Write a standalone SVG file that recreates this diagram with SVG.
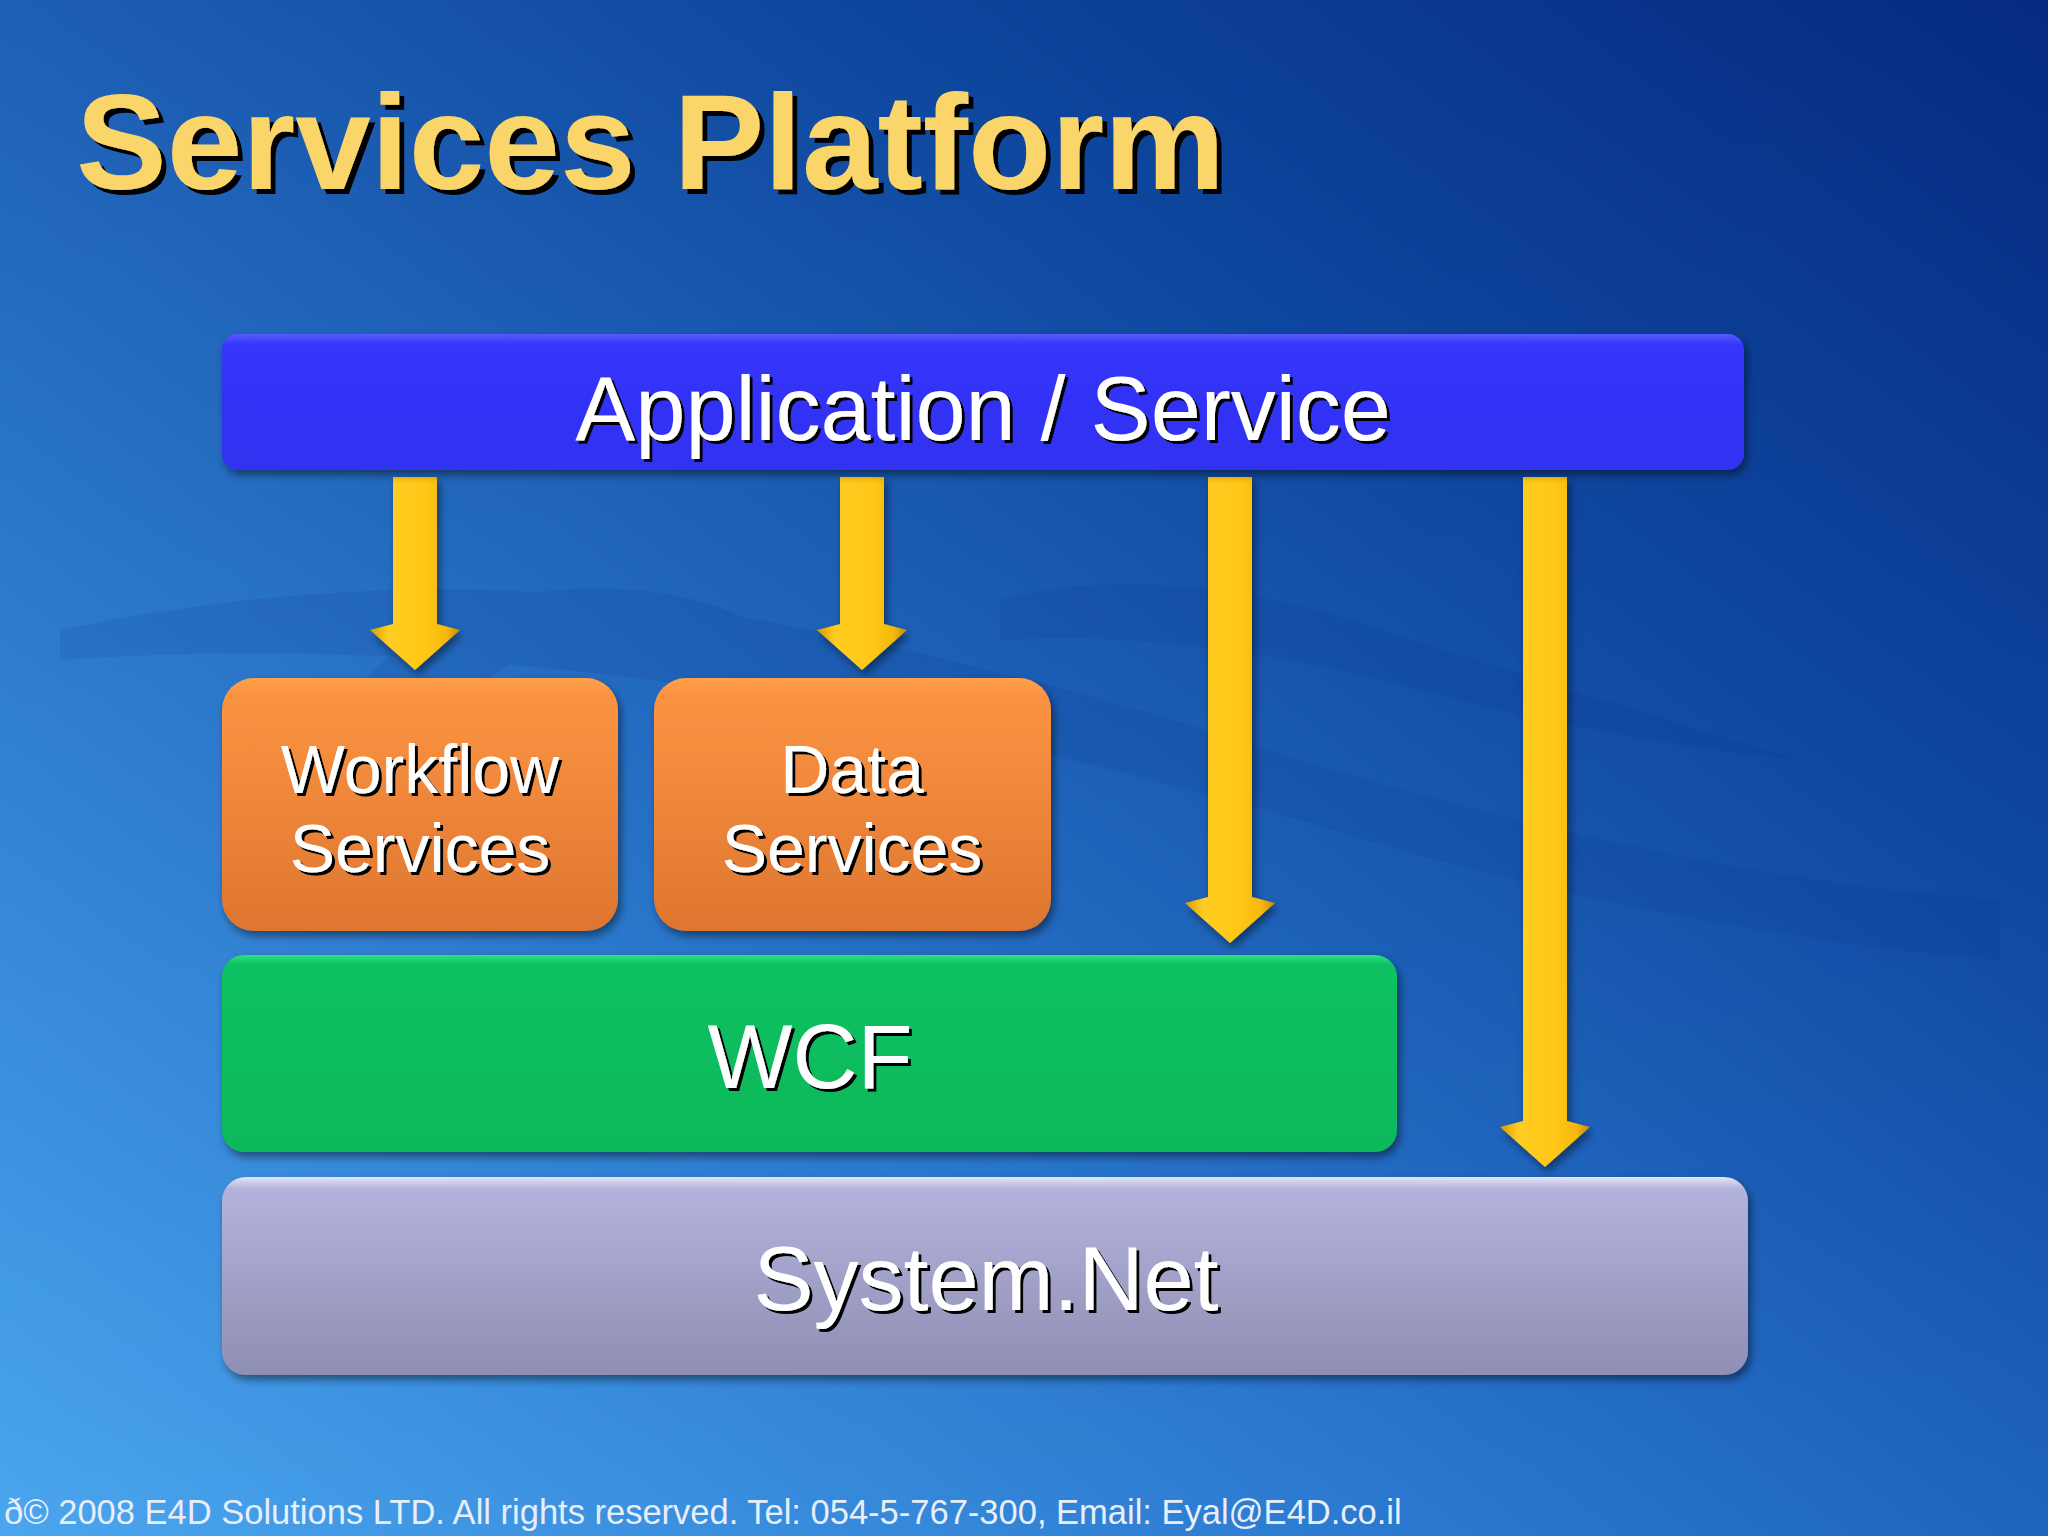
<svg xmlns="http://www.w3.org/2000/svg" width="2048" height="1536" viewBox="0 0 2048 1536">
<defs>
<linearGradient id="bg" x1="0" y1="1" x2="1" y2="0">
<stop offset="0" stop-color="#4aa6ee"/>
<stop offset="0.35" stop-color="#2a78cf"/>
<stop offset="0.7" stop-color="#0f4aa6"/>
<stop offset="1" stop-color="#062c86"/>
</linearGradient>
<linearGradient id="bgv" x1="0" y1="0" x2="0" y2="1">
<stop offset="0" stop-color="#000" stop-opacity="0.05"/>
<stop offset="1" stop-color="#000" stop-opacity="0"/>
</linearGradient>
<linearGradient id="gArrow" x1="0" y1="0" x2="1" y2="0">
<stop offset="0" stop-color="#d99a00"/>
<stop offset="0.2" stop-color="#ffcc22"/>
<stop offset="0.6" stop-color="#ffc817"/>
<stop offset="0.85" stop-color="#f5b80c"/>
<stop offset="1" stop-color="#c98a00"/>
</linearGradient>
<linearGradient id="gBlue" x1="0" y1="0" x2="0" y2="1">
<stop offset="0" stop-color="#5a5aff"/>
<stop offset="0.08" stop-color="#3535fc"/>
<stop offset="1" stop-color="#3030f0"/>
</linearGradient>
<linearGradient id="gOrange" x1="0" y1="0" x2="0" y2="1">
<stop offset="0" stop-color="#ffa04c"/>
<stop offset="0.06" stop-color="#fb9442"/>
<stop offset="1" stop-color="#de7630"/>
</linearGradient>
<linearGradient id="gGreen" x1="0" y1="0" x2="0" y2="1">
<stop offset="0" stop-color="#2ee27e"/>
<stop offset="0.05" stop-color="#0cc162"/>
<stop offset="1" stop-color="#08b85a"/>
</linearGradient>
<linearGradient id="gGray" x1="0" y1="0" x2="0" y2="1">
<stop offset="0" stop-color="#e4e4f6"/>
<stop offset="0.06" stop-color="#b2b2dc"/>
<stop offset="1" stop-color="#8f8fb4"/>
</linearGradient>
<filter id="shadow" x="-5%" y="-10%" width="110%" height="125%">
<feDropShadow dx="3" dy="5" stdDeviation="4" flood-color="#000" flood-opacity="0.45"/>
</filter>
<filter id="tsBig" x="-5%" y="-10%" width="110%" height="130%">
<feOffset in="SourceAlpha" dx="5" dy="5" result="o"/>
<feFlood flood-color="#000"/>
<feComposite in2="o" operator="in" result="s"/>
<feMerge><feMergeNode in="s"/><feMergeNode in="SourceGraphic"/></feMerge>
</filter>
<filter id="ts" x="-5%" y="-10%" width="110%" height="130%">
<feOffset in="SourceAlpha" dx="3" dy="3" result="o"/>
<feFlood flood-color="#000"/>
<feComposite in2="o" operator="in" result="s"/>
<feMerge><feMergeNode in="s"/><feMergeNode in="SourceGraphic"/></feMerge>
</filter>
<style>
.title{font-family:"Liberation Sans",Arial,sans-serif;font-weight:bold;font-size:136px;fill:#fad56a;filter:url(#tsBig);}
.lbl{font-family:"Liberation Sans",Arial,sans-serif;text-anchor:middle;fill:#fff;filter:url(#ts);}
.big{font-size:90px;}
.mid{font-size:68px;}
.arrow{fill:url(#gArrow);filter:url(#shadow);}
.foot{font-family:"Liberation Sans",Arial,sans-serif;font-size:34.5px;fill:#e8eef8;}
</style>
</defs>

<rect x="0" y="0" width="2048" height="1536" fill="url(#bg)"/>
<rect x="0" y="0" width="2048" height="1536" fill="url(#bgv)"/>
<g fill="#0a2f80" opacity="0.12">
<path d="M60 630 Q400 560 700 610 Q1000 660 1300 760 Q1700 880 2000 900 L2000 960 Q1650 930 1300 820 Q950 720 650 680 Q350 640 60 660 Z"/>
<path d="M350 700 Q420 600 560 590 Q700 580 780 640 Q680 620 580 640 Q470 660 420 760 Z"/>
<path d="M1000 600 Q1150 560 1350 620 Q1600 700 1800 760 Q1600 740 1380 680 Q1180 630 1000 640 Z"/>
</g>

<g id="title">
<text class="title" x="76" y="189">Services Platform</text>
</g>

<g id="connectors">
<path class="arrow" d="M393 477 L437 477 L437 624 L460 630 L415 670 L370 630 L393 624 Z"/>
<path class="arrow" d="M840 477 L884 477 L884 624 L907 630 L862 670 L817 630 L840 624 Z"/>
<path class="arrow" d="M1208 477 L1252 477 L1252 897 L1275 903 L1230 943 L1185 903 L1208 897 Z"/>
<path class="arrow" d="M1523 477 L1567 477 L1567 1121 L1590 1127 L1545 1167 L1500 1127 L1523 1121 Z"/>
</g>

<g id="app">
<rect x="222" y="334" width="1522" height="136" rx="16" fill="url(#gBlue)" filter="url(#shadow)"/>
<text class="lbl big" x="983" y="440">Application / Service</text>
</g>

<g id="workflow">
<rect x="222" y="678" width="396" height="253" rx="32" fill="url(#gOrange)" filter="url(#shadow)"/>
<text class="lbl mid" x="420" y="793">Workflow</text>
<text class="lbl mid" x="420" y="872">Services</text>
</g>

<g id="data">
<rect x="654" y="678" width="397" height="253" rx="32" fill="url(#gOrange)" filter="url(#shadow)"/>
<text class="lbl mid" x="852" y="793">Data</text>
<text class="lbl mid" x="852" y="872">Services</text>
</g>

<g id="wcf">
<rect x="222" y="955" width="1175" height="197" rx="22" fill="url(#gGreen)" filter="url(#shadow)"/>
<text class="lbl big" x="810" y="1088">WCF</text>
</g>

<g id="systemnet">
<rect x="222" y="1177" width="1526" height="198" rx="24" fill="url(#gGray)" filter="url(#shadow)"/>
<text class="lbl big" x="986" y="1310">System.Net</text>
</g>

<g id="footer">
<text class="foot" x="4" y="1524">ð© 2008 E4D Solutions LTD. All rights reserved. Tel: 054-5-767-300, Email: Eyal@E4D.co.il</text>
</g>
</svg>
